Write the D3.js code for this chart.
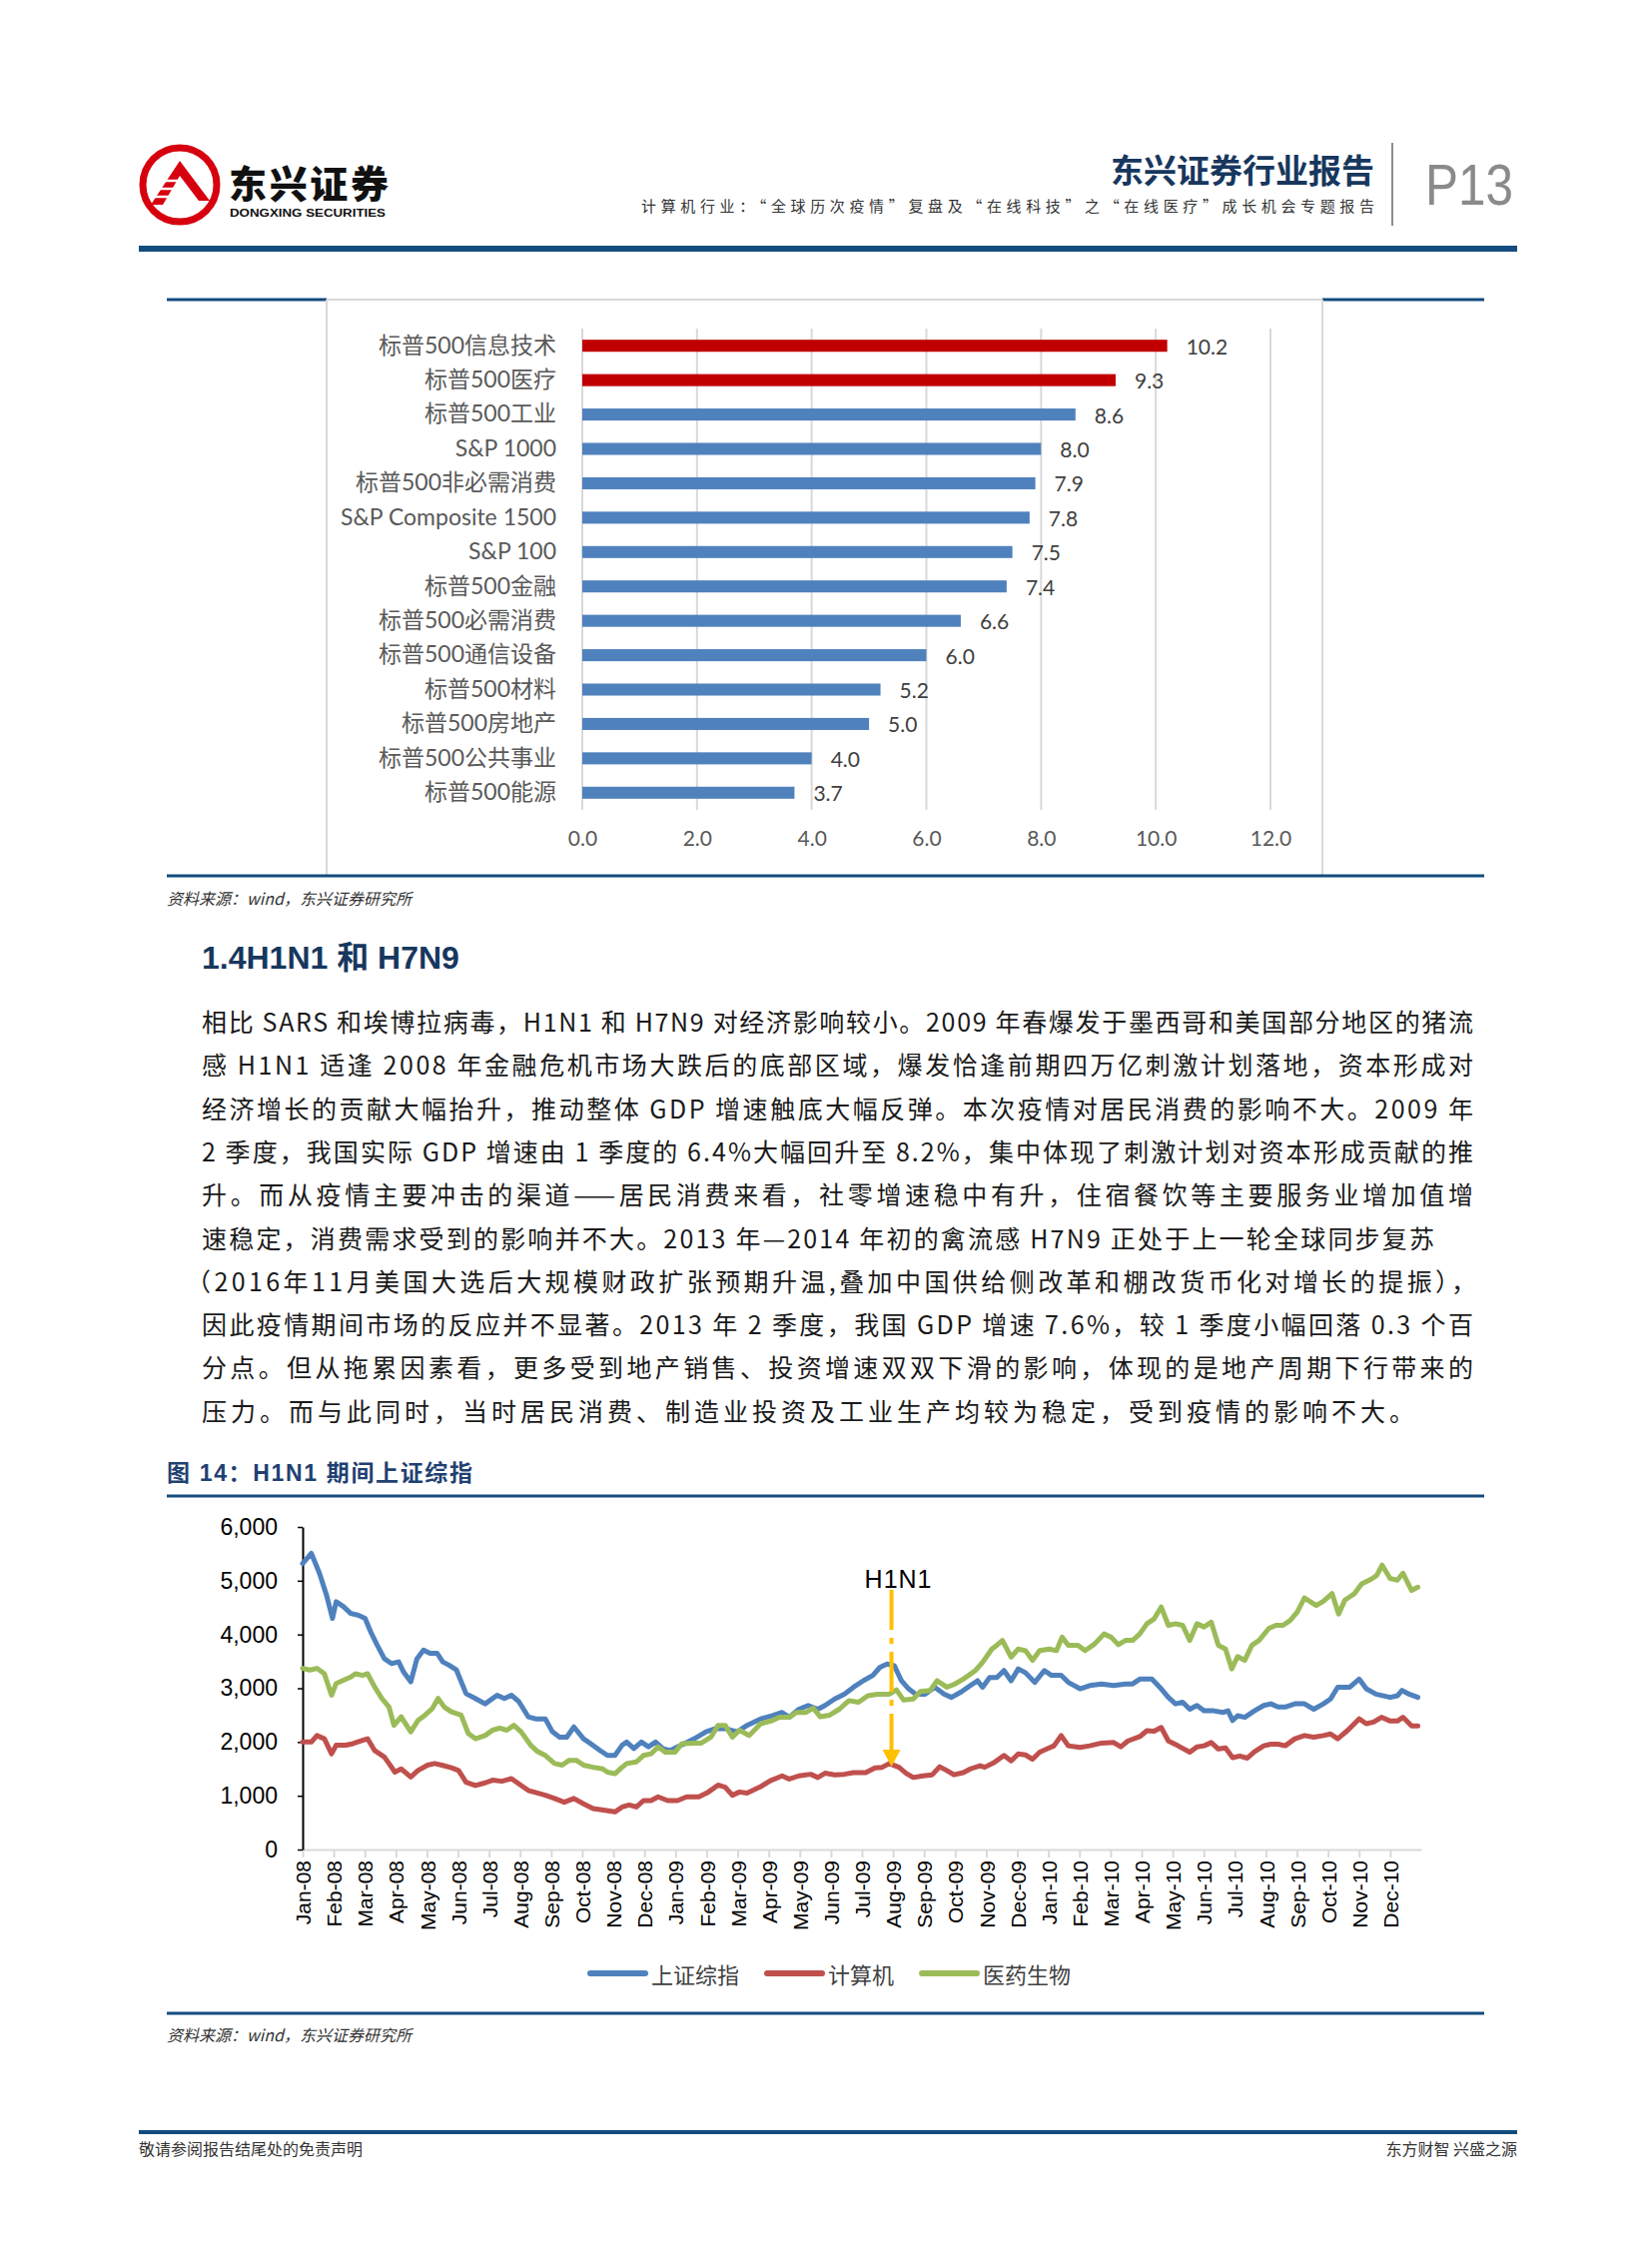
<!DOCTYPE html>
<html>
<head>
<meta charset="utf-8">
<script src="https://cdn.jsdelivr.net/npm/d3@7"></script>
<style>
  body { margin: 0; background: #fff; }
  svg { display: block; }
</style>
</head>
<body>
<svg id="page" width="1654" height="2244"></svg>
<script>
// ---- bar chart data ----
const barCategories = ["标普500信息技术", "标普500医疗", "标普500工业", "S&P 1000", "标普500非必需消费",
  "S&P Composite 1500", "S&P 100", "标普500金融", "标普500必需消费", "标普500通信设备",
  "标普500材料", "标普500房地产", "标普500公共事业", "标普500能源"];
const barValues = [10.2, 9.3, 8.6, 8.0, 7.9, 7.8, 7.5, 7.4, 6.6, 6.0, 5.2, 5.0, 4.0, 3.7];
const redCategories = ["标普500信息技术", "标普500医疗"];
const barTicks = [0, 2, 4, 6, 8, 10, 12];

// ---- line chart data: [months since Jan-08, value] ----
const monthLabels = ["Jan-08","Feb-08","Mar-08","Apr-08","May-08","Jun-08","Jul-08","Aug-08","Sep-08","Oct-08","Nov-08","Dec-08",
  "Jan-09","Feb-09","Mar-09","Apr-09","May-09","Jun-09","Jul-09","Aug-09","Sep-09","Oct-09","Nov-09","Dec-09",
  "Jan-10","Feb-10","Mar-10","Apr-10","May-10","Jun-10","Jul-10","Aug-10","Sep-10","Oct-10","Nov-10","Dec-10"];
const yTicks = [0, 1000, 2000, 3000, 4000, 5000, 6000];

const shComposite = [[0,5320],[0.28,5510],[0.54,5140],[0.77,4730],[0.96,4300],[1.08,4610],[1.31,4520],[1.55,4390],[1.78,4360],[2.01,4300],[2.19,4050],[2.40,3800],[2.63,3550],[2.86,3460],[3.09,3490],[3.25,3300],[3.48,3120],[3.68,3550],[3.89,3710],[4.10,3650],[4.33,3650],[4.51,3490],[4.71,3430],[4.95,3340],[5.26,2900],[5.56,2810],[5.87,2710],[6.26,2870],[6.49,2810],[6.72,2870],[6.96,2750],[7.26,2470],[7.50,2430],[7.81,2430],[8.04,2190],[8.27,2090],[8.50,2090],[8.73,2280],[9.04,2060],[9.27,1970],[9.58,1840],[9.81,1750],[10.05,1750],[10.28,1940],[10.43,2000],[10.66,1880],[10.90,2000],[11.13,1910],[11.36,2000],[11.59,1880],[11.82,1840],[12.06,1910],[12.29,1970],[12.60,2060],[12.98,2190],[13.29,2250],[13.60,2250],[13.99,2190],[14.30,2310],
  [14.74,2430],[15.12,2490],[15.43,2550],[15.66,2460],[15.97,2610],[16.27,2680],[16.58,2610],[16.81,2680],[17.12,2800],[17.43,2890],[17.73,3020],[18.04,3140],[18.35,3240],[18.58,3390],[18.81,3450],[19.04,3420],[19.27,3140],[19.50,2990],[19.73,2890],[20.03,2890],[20.34,3020],[20.65,2890],[20.88,2830],[21.19,2930],[21.49,3050],[21.72,3140],[21.88,3020],[22.11,3200],[22.34,3200],[22.57,3330],[22.80,3140],[23.03,3360],[23.26,3290],[23.56,3110],[23.87,3330],[24.10,3240],[24.41,3240],[24.64,3110],[25.02,2990],[25.33,3050],[25.71,3080],[26.10,3050],[26.48,3080],[26.71,3080],[26.94,3170],[27.33,3170],[27.63,2990],[27.86,2830],[28.09,2710],[28.32,2740],[28.55,2610],[28.78,2680],[29.01,2580],[29.32,2580],[29.63,2550],[29.78,2580],[29.93,2400],[30.09,2490],[30.32,2460],[30.63,2580],[30.93,2680],[31.16,2710],[31.39,2650],[31.62,2650],[31.93,2710],[32.24,2710],[32.54,2610],[32.85,2710],[33.08,2800],[33.31,3020],[33.70,3020],[34.00,3170],[34.23,2990],[34.54,2890],[35.00,2830],[35.23,2860],[35.38,2960],[35.61,2890],[35.89,2830]];

const computer = [[0,2000],[0.28,2000],[0.46,2120],[0.70,2060],[0.93,1780],[1.08,1940],[1.39,1940],[1.62,1970],[1.93,2030],[2.09,2060],[2.32,1840],[2.63,1720],[2.78,1600],[2.97,1440],[3.17,1500],[3.48,1350],[3.71,1470],[4.02,1570],[4.25,1600],[4.48,1570],[4.79,1520],[5.02,1470],[5.26,1250],[5.56,1190],[5.87,1240],[6.11,1290],[6.41,1270],[6.72,1320],[6.96,1220],[7.26,1100],[7.50,1060],[7.81,1010],[8.11,950],[8.42,880],[8.73,950],[9.04,850],[9.35,760],[9.74,730],[10.05,700],[10.28,790],[10.51,830],[10.74,790],[10.97,910],[11.21,910],[11.44,980],[11.75,910],[12.06,910],[12.36,980],[12.75,980],[13.06,1070],[13.37,1200],[13.60,1160],[13.83,1010],[14.06,1070],[14.30,1050],
  [14.74,1170],[15.05,1280],[15.43,1370],[15.66,1310],[15.97,1370],[16.35,1400],[16.58,1340],[16.81,1420],[17.12,1390],[17.43,1400],[17.73,1430],[18.12,1430],[18.42,1520],[18.65,1530],[18.88,1600],[19.19,1530],[19.42,1420],[19.65,1340],[19.96,1370],[20.26,1390],[20.50,1540],[20.73,1470],[20.96,1390],[21.26,1430],[21.49,1500],[21.80,1560],[21.95,1530],[22.26,1620],[22.57,1750],[22.80,1650],[23.03,1780],[23.26,1760],[23.49,1680],[23.72,1810],[23.95,1870],[24.18,1930],[24.41,2120],[24.64,1930],[25.02,1900],[25.33,1930],[25.71,1980],[26.10,1990],[26.33,1910],[26.56,2020],[26.94,2100],[27.17,2210],[27.40,2200],[27.63,2270],[27.86,2020],[28.17,1930],[28.55,1810],[28.78,1910],[29.01,1930],[29.24,1990],[29.47,1870],[29.70,1890],[29.93,1710],[30.16,1740],[30.40,1700],[30.63,1820],[30.93,1930],[31.16,1960],[31.39,1960],[31.62,1930],[31.93,2060],[32.24,2120],[32.54,2090],[32.85,2120],[33.08,2150],[33.31,2060],[33.62,2210],[34.00,2430],[34.23,2340],[34.46,2370],[34.72,2460],[35.00,2390],[35.23,2390],[35.41,2460],[35.69,2300],[35.89,2300]];

const pharma = [[0,3370],[0.23,3340],[0.46,3370],[0.70,3270],[0.93,2870],[1.08,3090],[1.31,3150],[1.55,3210],[1.70,3270],[1.93,3240],[2.09,3270],[2.32,3020],[2.55,2810],[2.78,2650],[2.94,2310],[3.17,2470],[3.48,2190],[3.71,2400],[3.94,2500],[4.17,2620],[4.36,2810],[4.56,2650],[4.79,2560],[5.10,2500],[5.33,2160],[5.56,2060],[5.87,2120],[6.11,2220],[6.34,2260],[6.57,2220],[6.80,2310],[7.03,2190],[7.34,1940],[7.57,1820],[7.81,1750],[8.11,1600],[8.35,1570],[8.58,1660],[8.81,1660],[9.04,1570],[9.35,1530],[9.66,1500],[9.81,1440],[10.05,1410],[10.28,1530],[10.43,1600],[10.74,1630],[10.97,1750],[11.21,1780],[11.44,1910],[11.67,1810],[11.98,1810],[12.21,1970],[12.60,1980],[12.83,1980],[13.14,2090],[13.37,2310],[13.60,2310],[13.83,2090],[14.06,2220],[14.37,2120],
  [14.74,2340],[15.12,2400],[15.35,2460],[15.66,2460],[15.89,2550],[16.20,2550],[16.43,2630],[16.66,2470],[16.96,2500],[17.27,2610],[17.58,2770],[17.89,2740],[18.19,2860],[18.50,2890],[18.88,2890],[19.11,2970],[19.34,2780],[19.65,2800],[19.88,2940],[20.19,2960],[20.42,3140],[20.73,3020],[20.96,3070],[21.26,3170],[21.65,3330],[21.88,3480],[22.18,3730],[22.34,3800],[22.52,3890],[22.80,3580],[23.03,3730],[23.26,3700],[23.49,3520],[23.72,3700],[24.03,3730],[24.26,3700],[24.44,3950],[24.64,3800],[24.95,3800],[25.18,3700],[25.48,3820],[25.79,4010],[26.02,3950],[26.25,3810],[26.48,3890],[26.71,3890],[26.94,4010],[27.17,4200],[27.40,4290],[27.63,4510],[27.86,4170],[28.09,4200],[28.32,4170],[28.55,3890],[28.78,4200],[29.01,4140],[29.24,4230],[29.47,3800],[29.70,3730],[29.90,3360],[30.09,3590],[30.32,3520],[30.55,3800],[30.78,3890],[31.09,4110],[31.32,4170],[31.55,4170],[31.78,4260],[32.01,4420],[32.24,4680],[32.62,4540],[32.85,4620],[33.13,4760],[33.34,4380],[33.54,4640],[33.85,4760],[34.08,4940],[34.39,5030],[34.57,5100],[34.74,5290],[35.00,5040],[35.23,5010],[35.41,5140],[35.69,4820],[35.89,4880]];

const seriesNames = ["上证综指", "计算机", "医药生物"];
const seriesColors = ["#4F81BD", "#C0504D", "#9BBB59"];
const h1n1Month = 18.95;

const bodyLines = [
  "相比 SARS 和埃博拉病毒，H1N1 和 H7N9 对经济影响较小。2009 年春爆发于墨西哥和美国部分地区的猪流",
  "感 H1N1 适逢 2008 年金融危机市场大跌后的底部区域，爆发恰逢前期四万亿刺激计划落地，资本形成对",
  "经济增长的贡献大幅抬升，推动整体 GDP 增速触底大幅反弹。本次疫情对居民消费的影响不大。2009 年",
  "2 季度，我国实际 GDP 增速由 1 季度的 6.4%大幅回升至 8.2%，集中体现了刺激计划对资本形成贡献的推",
  "升。而从疫情主要冲击的渠道——居民消费来看，社零增速稳中有升，住宿餐饮等主要服务业增加值增",
  "速稳定，消费需求受到的影响并不大。2013 年—2014 年初的禽流感 H7N9 正处于上一轮全球同步复苏",
  "（2016年11月美国大选后大规模财政扩张预期升温,叠加中国供给侧改革和棚改货币化对增长的提振），",
  "因此疫情期间市场的反应并不显著。2013 年 2 季度，我国 GDP 增速 7.6%，较 1 季度小幅回落 0.3 个百",
  "分点。但从拖累因素看，更多受到地产销售、投资增速双双下滑的影响，体现的是地产周期下行带来的",
  "压力。而与此同时，当时居民消费、制造业投资及工业生产均较为稳定，受到疫情的影响不大。"
];
const bodyLineEnds = [1475, 1475, 1475, 1475, 1475, 1436, 1478, 1475, 1475, 1416];

const NAVY = "#134C7E";
const CJK = "'Noto Sans CJK SC', sans-serif";
const ARIAL = "'Liberation Sans', Arial, 'Noto Sans CJK SC', sans-serif";
const LATO = "Lato, 'Noto Sans CJK SC', sans-serif";

const svg = d3.select("#page");
svg.append("rect").attr("width", 1654).attr("height", 2244).attr("fill", "#fff");

// ---- header ----
const logo = svg.append("g").attr("transform", "translate(180,185)");
logo.append("circle").attr("r", 37).attr("fill", "#fff").attr("stroke", "#D7000F").attr("stroke-width", 7);
logo.append("path").attr("d", "M-29,20 L0,-24 L30,16 L19,16 L0,-9 L-17,20 Z").attr("fill", "#D7000F");
[-4, 4, 12].forEach(yy => {
  logo.append("line").attr("x1", -30).attr("x2", -2).attr("y1", yy).attr("y2", yy)
    .attr("stroke", "#fff").attr("stroke-width", 2.5);
});
svg.append("text").attr("x", 229).attr("y", 198).attr("font-family", CJK).attr("font-weight", 900)
  .attr("font-size", 38).attr("textLength", 160).attr("fill", "#111").text("东兴证券");
svg.append("text").attr("x", 230).attr("y", 217).attr("font-family", ARIAL).attr("font-weight", 700)
  .attr("font-size", 11).attr("textLength", 156).attr("lengthAdjust", "spacingAndGlyphs")
  .attr("fill", "#111").text("DONGXING SECURITIES");

svg.append("text").attr("x", 1376).attr("y", 183).attr("text-anchor", "end").attr("font-family", CJK)
  .attr("font-weight", 700).attr("font-size", 33).attr("fill", "#17375E").text("东兴证券行业报告");
svg.append("text").attr("x", 1376).attr("y", 212).attr("text-anchor", "end").attr("font-family", CJK)
  .attr("font-size", 15).attr("fill", "#333").attr("textLength", 734)
  .text("计算机行业：“全球历次疫情”复盘及“在线科技”之“在线医疗”成长机会专题报告");
svg.append("line").attr("x1", 1394).attr("x2", 1394).attr("y1", 143).attr("y2", 226)
  .attr("stroke", "#8c8c8c").attr("stroke-width", 2);
svg.append("text").attr("x", 1427).attr("y", 205).attr("font-family", ARIAL).attr("font-size", 58)
  .attr("textLength", 88).attr("lengthAdjust", "spacingAndGlyphs").attr("fill", "#8a8a8a").text("P13");
svg.append("rect").attr("x", 139).attr("y", 246).attr("width", 1380).attr("height", 6).attr("fill", NAVY);

// ---- bar chart ----
svg.append("line").attr("x1", 327).attr("x2", 1324).attr("y1", 300).attr("y2", 300).attr("stroke", "#d9d9d9").attr("stroke-width", 2);
svg.append("line").attr("x1", 167).attr("x2", 327).attr("y1", 300).attr("y2", 300).attr("stroke", NAVY).attr("stroke-width", 3);
svg.append("line").attr("x1", 1324).attr("x2", 1486).attr("y1", 300).attr("y2", 300).attr("stroke", NAVY).attr("stroke-width", 3);
[327, 1324].forEach(xx => svg.append("line").attr("x1", xx).attr("x2", xx).attr("y1", 300).attr("y2", 876)
  .attr("stroke", "#d9d9d9").attr("stroke-width", 2));
svg.append("line").attr("x1", 167).attr("x2", 1486).attr("y1", 877).attr("y2", 877).attr("stroke", NAVY).attr("stroke-width", 3);

const bx = d3.scaleLinear().domain([0, 12]).range([583, 1272]);
const by = d3.scaleBand().domain(barCategories).range([329, 811]).paddingInner(0.65).paddingOuter(0.325);
const barG = svg.append("g");

barG.selectAll(".grid").data(barTicks).enter().append("line")
  .attr("x1", d => bx(d)).attr("x2", d => bx(d)).attr("y1", 329).attr("y2", 811)
  .attr("stroke", "#d9d9d9").attr("stroke-width", 2);

barG.selectAll(".bar").data(barCategories).enter().append("rect")
  .attr("x", bx(0)).attr("y", d => by(d))
  .attr("width", (d, i) => bx(barValues[i]) - bx(0)).attr("height", by.bandwidth())
  .attr("fill", d => redCategories.includes(d) ? "#C00000" : "#4F81BD");

barG.selectAll(".val").data(barCategories).enter().append("text")
  .attr("x", (d, i) => bx(barValues[i]) + 19).attr("y", d => by(d) + by.bandwidth() / 2)
  .attr("dominant-baseline", "central").attr("font-family", LATO).attr("font-size", 21)
  .attr("fill", "#404040").text((d, i) => d3.format(".1f")(barValues[i]));

const bxAxis = barG.append("g").attr("transform", "translate(0,832)")
  .call(d3.axisBottom(bx).tickValues(barTicks).tickSize(0).tickPadding(0).tickFormat(d3.format(".1f")));
bxAxis.select(".domain").remove();
bxAxis.selectAll("text").attr("font-family", LATO).attr("font-size", 21).attr("fill", "#595959")
  .attr("dy", "0.71em");

const byAxis = barG.append("g").attr("transform", "translate(583,0)")
  .call(d3.axisLeft(by).tickSize(0).tickPadding(26));
byAxis.select(".domain").remove();
byAxis.selectAll("text").attr("font-family", LATO).attr("font-size", 23).attr("fill", "#595959");

svg.append("text").attr("x", 167).attr("y", 906).attr("font-family", CJK).attr("font-style", "italic")
  .attr("font-size", 16).attr("fill", "#333").text("资料来源：wind，东兴证券研究所");

// ---- section text ----
svg.append("text").attr("x", 202).attr("y", 970).attr("font-family", ARIAL).attr("font-weight", 700)
  .attr("font-size", 32).attr("fill", "#17375E").text("1.4H1N1 和 H7N9");

svg.selectAll(".body").data(bodyLines).enter().append("text")
  .attr("x", (d, i) => i === 6 ? 186 : 202)
  .attr("y", (d, i) => 1022 + i * 43.3)
  .attr("dominant-baseline", "central")
  .attr("font-family", CJK).attr("font-size", 25).attr("fill", "#1a1a1a")
  .attr("textLength", (d, i) => bodyLineEnds[i] - (i === 6 ? 186 : 202))
  .attr("lengthAdjust", "spacing")
  .text(d => d);

svg.append("text").attr("x", 167).attr("y", 1483).attr("font-family", ARIAL).attr("font-weight", 700)
  .attr("font-size", 23).attr("textLength", 306).attr("fill", "#1F4172").text("图 14：H1N1 期间上证综指");
svg.append("line").attr("x1", 167).attr("x2", 1486).attr("y1", 1498).attr("y2", 1498).attr("stroke", NAVY).attr("stroke-width", 3);

// ---- line chart ----
const lx = d3.scaleLinear().domain([0, 36]).range([303, 1423]);
const ly = d3.scaleLinear().domain([0, 6000]).range([1852, 1529]);
const lineG = svg.append("g");

const xAxis = lineG.append("g").attr("transform", "translate(0,1852)")
  .call(d3.axisBottom(lx).tickValues(d3.range(36)).tickSize(8).tickSizeOuter(0)
    .tickFormat(i => monthLabels[i]));
xAxis.select(".domain").attr("stroke", "#d9d9d9").attr("stroke-width", 2);
xAxis.selectAll(".tick line").attr("stroke", "#d9d9d9").attr("stroke-width", 2);
xAxis.selectAll("text").attr("transform", "rotate(-90)").attr("text-anchor", "end")
  .attr("x", -11).attr("y", 0).attr("dy", "0.36em")
  .attr("font-family", ARIAL).attr("font-size", 21).attr("fill", "#000");

const yAxis = lineG.append("g").attr("transform", "translate(303,0)")
  .call(d3.axisLeft(ly).tickValues(yTicks).tickSize(5).tickSizeOuter(0).tickPadding(20)
    .tickFormat(d3.format(",")));
yAxis.select(".domain").attr("stroke", "#000").attr("stroke-width", 2);
yAxis.selectAll(".tick line").attr("stroke", "#000").attr("stroke-width", 1.5);
yAxis.selectAll("text").attr("font-family", ARIAL).attr("font-size", 23).attr("fill", "#000");

const lineGen = d3.line().x(d => lx(d[0])).y(d => ly(d[1]));
[shComposite, computer, pharma].forEach((s, i) => {
  lineG.append("path").datum(s).attr("d", lineGen).attr("fill", "none")
    .attr("stroke", seriesColors[i]).attr("stroke-width", 5)
    .attr("stroke-linejoin", "round").attr("stroke-linecap", "round");
});

// H1N1 annotation
const ax = lx(h1n1Month);
lineG.append("line").attr("x1", ax).attr("x2", ax).attr("y1", 1592).attr("y2", 1752)
  .attr("stroke", "#FFC000").attr("stroke-width", 4).attr("stroke-dasharray", "40,8,6,8");
lineG.append("path").attr("d", `M${ax - 9},1752 L${ax + 9},1752 L${ax},1769 Z`).attr("fill", "#FFC000");
lineG.append("text").attr("x", ax + 7).attr("y", 1590).attr("text-anchor", "middle")
  .attr("font-family", ARIAL).attr("font-size", 25).attr("letter-spacing", 1).attr("fill", "#000").text("H1N1");

// legend
let legX = 591;
seriesNames.forEach((name, i) => {
  lineG.append("line").attr("x1", legX).attr("x2", legX + 55).attr("y1", 1976).attr("y2", 1976)
    .attr("stroke", seriesColors[i]).attr("stroke-width", 6).attr("stroke-linecap", "round");
  const t = lineG.append("text").attr("x", legX + 61).attr("y", 1976).attr("dominant-baseline", "central")
    .attr("font-family", CJK).attr("font-size", 22).attr("fill", "#404040").text(name);
  legX += 61 + t.node().getComputedTextLength() + 28;
});

svg.append("line").attr("x1", 167).attr("x2", 1486).attr("y1", 2016).attr("y2", 2016).attr("stroke", NAVY).attr("stroke-width", 3);
svg.append("text").attr("x", 167).attr("y", 2044).attr("font-family", CJK).attr("font-style", "italic")
  .attr("font-size", 16).attr("fill", "#333").text("资料来源：wind，东兴证券研究所");

// ---- footer ----
svg.append("rect").attr("x", 139).attr("y", 2133).attr("width", 1380).attr("height", 4).attr("fill", NAVY);
svg.append("text").attr("x", 139).attr("y", 2158).attr("font-family", CJK).attr("font-size", 16)
  .attr("fill", "#333").text("敬请参阅报告结尾处的免责声明");
svg.append("text").attr("x", 1519).attr("y", 2158).attr("text-anchor", "end").attr("font-family", CJK)
  .attr("font-size", 16).attr("fill", "#333").text("东方财智 兴盛之源");
</script>
</body>
</html>
